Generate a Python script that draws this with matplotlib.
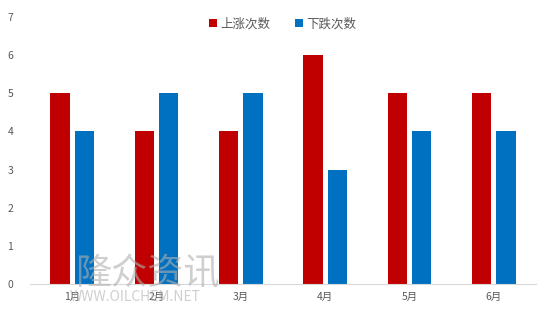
import numpy as np
import matplotlib as mpl
mpl.use('Agg')
import matplotlib.pyplot as plt

plt.rcParams['font.family'] = ['Noto Sans CJK SC', 'DejaVu Sans']

months = ['1月', '2月', '3月', '4月', '5月', '6月']
up_counts = [5, 4, 4, 6, 5, 5]
down_counts = [4, 5, 5, 3, 4, 4]

red = '#C00000'
blue = '#0070C0'
grey = '#595959'

fig = plt.figure(figsize=(5.54, 3.14), dpi=100)
ax = fig.add_axes([0.054, 0.0955, 0.9135, 0.8505])

x = np.arange(len(months))
w = 0.23
gap = 0.06
ax.bar(x - (w + gap) / 2, up_counts, w, color=red, label='上涨次数')
ax.bar(x + (w + gap) / 2, down_counts, w, color=blue, label='下跌次数')

ax.set_xlim(-0.5, len(months) - 0.5)
ax.set_ylim(0, 7)
ax.set_yticks(range(8))
ax.set_xticks(x)
ax.set_xticklabels(months)
ax.tick_params(axis='both', length=0, colors=grey, labelsize=7.5)
ax.tick_params(axis='y', pad=12)
ax.tick_params(axis='x', pad=6)
for s in ['top', 'right', 'left']:
    ax.spines[s].set_visible(False)
ax.spines['bottom'].set_color('#D9D9D9')

leg = ax.legend(loc='upper center', bbox_to_anchor=(0.5, 1.04), ncol=2,
                frameon=False, fontsize=9, handlelength=0.6, handleheight=0.6,
                columnspacing=2.0, handletextpad=0.3)
for t in leg.get_texts():
    t.set_color(grey)

# watermark
fig.text(0.135, 0.095, '隆众资讯', fontsize=26, color='#B0B0B0', alpha=0.6)
fig.text(0.125, 0.04, 'WWW.OILCHEM.NET', fontsize=10, color='#B0B0B0', alpha=0.6)

plt.savefig('out.png', dpi=100)
